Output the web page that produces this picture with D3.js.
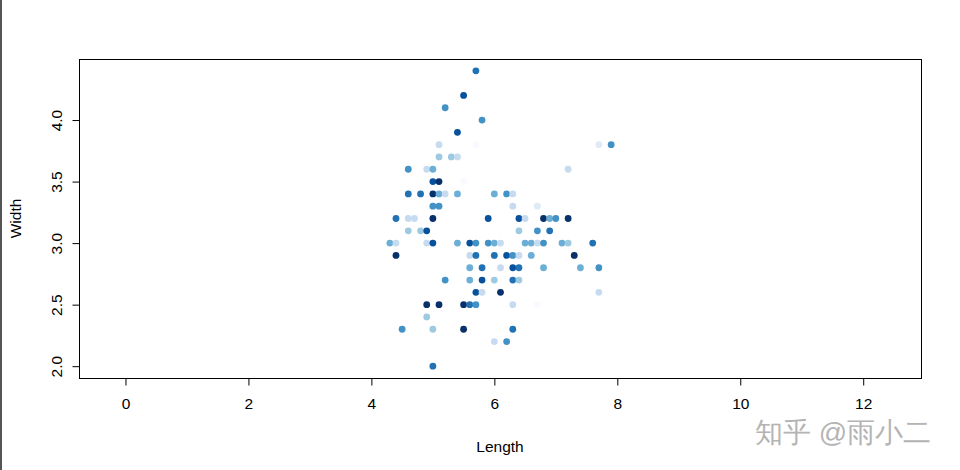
<!DOCTYPE html>
<html>
<head>
<meta charset="utf-8">
<script src="https://cdn.jsdelivr.net/npm/d3@7"></script>
<style>
	body { margin: 0; background: #fff; }
	svg text { font-family: "Liberation Sans", Arial, sans-serif; }
</style>
</head>
<body>
<div id="chart"></div>
<script>
	/*Data: Length, Width, shade index in the Blues palette*/
	var lengths = [5.7,5.5,5.2,5.8,5.4,5.1,5.7,7.7,7.9,5.1,5.3,5.4,4.6,4.9,5.0,7.2,5.0,5.1,5.5,
		4.6,4.8,5.0,5.1,5.2,5.4,6.0,6.2,6.3,5.0,5.1,6.3,6.7,
		4.4,4.6,4.7,5.0,5.9,6.4,6.5,6.8,6.9,7.0,7.2,4.6,4.8,4.9,6.4,6.7,6.9,
		4.3,4.4,4.9,5.0,5.4,5.6,5.7,5.9,6.0,6.1,6.5,6.6,6.7,6.8,7.1,7.2,7.6,
		4.4,5.6,5.7,6.0,6.2,6.3,6.4,6.6,7.3,5.6,5.8,6.1,6.3,6.4,6.8,7.4,7.7,
		5.2,5.6,5.8,6.0,6.3,6.4,5.7,5.8,6.1,7.7,4.9,5.1,5.5,5.6,5.7,6.3,6.7,
		4.9,4.5,5.0,5.5,6.3,6.0,6.2,5.0];
	var widths = [4.4,4.2,4.1,4.0,3.9,3.8,3.8,3.8,3.8,3.7,3.7,3.7,3.6,3.6,3.6,3.6,3.5,3.5,3.5,
		3.4,3.4,3.4,3.4,3.4,3.4,3.4,3.4,3.4,3.3,3.3,3.3,3.3,
		3.2,3.2,3.2,3.2,3.2,3.2,3.2,3.2,3.2,3.2,3.2,3.1,3.1,3.1,3.1,3.1,3.1,
		3.0,3.0,3.0,3.0,3.0,3.0,3.0,3.0,3.0,3.0,3.0,3.0,3.0,3.0,3.0,3.0,3.0,
		2.9,2.9,2.9,2.9,2.9,2.9,2.9,2.9,2.9,2.8,2.8,2.8,2.8,2.8,2.8,2.8,2.8,
		2.7,2.7,2.7,2.7,2.7,2.7,2.6,2.6,2.6,2.6,2.5,2.5,2.5,2.5,2.5,2.5,2.5,
		2.4,2.3,2.3,2.3,2.3,2.2,2.2,2.0];
	var shades = [6,7,5,5,7,2,0,1,5,3,3,2,5,2,4,2,7,8,0,
		6,6,8,4,2,4,4,5,2,5,5,2,1,
		6,2,2,8,7,7,2,8,4,5,8,3,3,7,3,5,6,
		4,2,2,7,4,7,5,5,4,2,4,4,2,5,4,3,6,
		8,2,6,6,7,5,2,4,8,4,6,2,7,6,4,4,5,
		5,4,7,3,6,3,7,2,8,2,8,8,8,6,5,2,0,
		3,5,3,8,6,2,5,6];

	var xTicks = [0, 2, 4, 6, 8, 10, 12];
	var yTicks = [2.0, 2.5, 3.0, 3.5, 4.0];

	/*SVG Size*/
	var width = 960;
	var height = 470;

	/*Plot box*/
	var box_l = 79, box_r = 921, box_t = 59, box_b = 378;
	var fontSize = 15.5;

	var svg = d3.select("#chart").append("svg")
		.attr("width", width)
		.attr("height", height);

	svg.append("rect")
		.attr("x", 0).attr("y", 0)
		.attr("width", 2).attr("height", height)
		.attr("fill", "#555");

	var x = d3.scaleLinear().domain([-0.756, 12.94]).range([box_l, box_r]);
	var y = d3.scaleLinear().domain([1.904, 4.496]).range([box_b, box_t]);

	var blues = d3.schemeBlues[9];

	/*Points*/
	svg.append("g")
		.selectAll("circle")
		.data(lengths)
		.join("circle")
		.attr("cx", function(d){ return x(d); })
		.attr("cy", function(d, i){ return y(widths[i]); })
		.attr("r", 3.4)
		.attr("fill", function(d, i){ return blues[shades[i]]; });

	/*Box*/
	svg.append("rect")
		.attr("x", box_l + 0.5).attr("y", box_t + 0.5)
		.attr("width", box_r - box_l).attr("height", box_b - box_t)
		.attr("fill", "none")
		.attr("stroke", "#000");

	/*Axes*/
	var xAxis = svg.append("g")
		.attr("transform", "translate(0," + (box_b + 0.5) + ")")
		.call(d3.axisBottom(x).tickValues(xTicks).tickSize(7).tickPadding(12).tickFormat(d3.format("d")));
	xAxis.select(".domain").remove();
	xAxis.selectAll("text").attr("font-size", fontSize).attr("fill", "#000")
		.attr("font-family", "Liberation Sans, Arial, sans-serif");

	var yAxis = svg.append("g")
		.attr("transform", "translate(" + (box_l + 0.5) + ",0)")
		.call(d3.axisLeft(y).tickValues(yTicks).tickSize(7).tickFormat(d3.format(".1f")));
	yAxis.select(".domain").remove();
	yAxis.selectAll("text")
		.attr("x", null).attr("dy", null)
		.attr("text-anchor", "middle")
		.attr("transform", "translate(-18,0) rotate(-90)")
		.attr("font-size", fontSize).attr("fill", "#000")
		.attr("font-family", "Liberation Sans, Arial, sans-serif");

	/*Labels*/
	svg.append("text")
		.attr("x", (box_l + box_r) / 2).attr("y", 452)
		.attr("text-anchor", "middle")
		.attr("font-size", fontSize)
		.text("Length");

	svg.append("text")
		.attr("transform", "translate(21," + (box_t + box_b) / 2 + ") rotate(-90)")
		.attr("text-anchor", "middle")
		.attr("font-size", fontSize)
		.text("Width");

	/*Watermark*/
	svg.append("text")
		.attr("x", 755).attr("y", 442)
		.attr("font-family", "Noto Sans CJK SC")
		.attr("font-size", 28)
		.attr("fill", "#b4b4b4")
		.text("知乎 @雨小二");
</script>
</body>
</html>
